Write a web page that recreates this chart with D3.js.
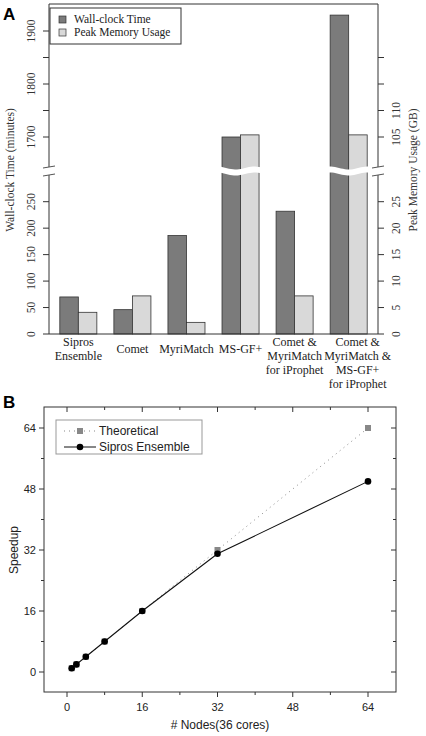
<!DOCTYPE html>
<html><head><meta charset="utf-8">
<script src="https://cdn.jsdelivr.net/npm/d3@7"></script>
<style>body{margin:0;background:#fff}</style>
</head><body>
<script>
var categories = [["Sipros","Ensemble"],["Comet"],["MyriMatch"],["MS-GF+"],["Comet &","MyriMatch","for iProphet"],["Comet &","MyriMatch &","MS-GF+","for iProphet"]];
var wallClock = [70, 46, 186, 1700, 232, 1930];
var peakMemory = [4.1, 7.2, 2.2, 105.4, 7.2, 105.4];
var nodes = [1, 2, 4, 8, 16, 32, 64];
var theoretical = [1, 2, 4, 8, 16, 32, 64];
var sipros = [1, 2, 4, 8, 16, 31, 50];

var svg = d3.select("body").append("svg").attr("width", 426).attr("height", 736);
var serif = "Liberation Serif, serif", sans = "Liberation Sans, Arial, sans-serif";

// ---- panel A
var L = 49, R = 378, T = 4, B = 334, brk = 171;
var x = d3.scaleBand().domain(d3.range(6)).range([L, R]).paddingInner(0.315).paddingOuter(0.2);
var yLow = d3.scaleLinear().domain([0, 250]).range([B, 201.7]);
var yHigh = d3.scaleLinear().domain([1700, 1900]).range([137, 31]);
var mLow = d3.scaleLinear().domain([0, 25]).range([B, 201.7]);
var mHigh = d3.scaleLinear().domain([105, 110]).range([137, 110.5]);
function yw(v) { return v > 1000 ? yHigh(v) : yLow(v); }
function ym(v) { return v > 50 ? mHigh(v) : mLow(v); }

var a = svg.append("g");
var bw = x.bandwidth() / 2;
a.selectAll("rect.w").data(wallClock).enter().append("rect")
  .attr("x", function(d, i) { return x(i); }).attr("width", bw)
  .attr("y", yw).attr("height", function(d) { return B - yw(d); })
  .attr("fill", "#7b7b7b").attr("stroke", "#333").attr("stroke-width", 0.8);
a.selectAll("rect.m").data(peakMemory).enter().append("rect")
  .attr("x", function(d, i) { return x(i) + bw; }).attr("width", bw)
  .attr("y", ym).attr("height", function(d) { return B - ym(d); })
  .attr("fill", "#d9d9d9").attr("stroke", "#333").attr("stroke-width", 0.8);

// break band
a.append("path").attr("d", d3.range(L - 10, R + 12, 2).map(function(px, k) {
    return (k ? "L" : "M") + px + "," + (brk - 3 + 1.5 * Math.sin(px / 6)); }).join("") +
    d3.range(R + 10, L - 12, -2).map(function(px) { return "L" + px + "," + (brk + 3 + 1.5 * Math.sin(px / 6)); }).join("") + "Z")
  .attr("fill", "#fff");

// axes lines
a.append("line").attr("x1", L).attr("x2", R).attr("y1", B).attr("y2", B).attr("stroke", "#333");
a.append("line").attr("x1", L).attr("x2", R).attr("y1", T).attr("y2", T).attr("stroke", "#333");
[L, R].forEach(function(px) {
  a.append("line").attr("x1", px).attr("x2", px).attr("y1", T).attr("y2", brk - 4).attr("stroke", "#333");
  a.append("line").attr("x1", px).attr("x2", px).attr("y1", brk + 4).attr("y2", B).attr("stroke", "#333");
  [-4, 4].forEach(function(o) {
    a.append("line").attr("x1", px - 6).attr("x2", px + 6).attr("y1", brk + o + 1).attr("y2", brk + o - 1).attr("stroke", "#555");
  });
});

function ticks(scale, vals, labelled, px, dir) {
  vals.forEach(function(v) {
    var py = scale(v);
    a.append("line").attr("x1", px).attr("x2", px + dir * 6).attr("y1", py).attr("y2", py).attr("stroke", "#333");
    if (labelled.indexOf(v) >= 0)
      a.append("text").attr("transform", "translate(" + (px + dir * 14) + "," + py + ") rotate(-90)")
        .attr("text-anchor", "middle").attr("dy", dir < 0 ? "0" : "0.7em").attr("font-family", serif)
        .attr("font-size", 11.5).attr("fill", "#333").text(v);
  });
}
ticks(yLow, [0, 50, 100, 150, 200, 250], [0, 50, 100, 150, 200, 250], L, -1);
ticks(yHigh, [1700, 1750, 1800, 1850, 1900], [1700, 1800, 1900], L, -1);
ticks(mLow, [0, 5, 10, 15, 20, 25], [0, 5, 10, 15, 20, 25], R, 1);
ticks(mHigh, [105, 110, 115, 120], [105, 110], R, 1);

a.append("text").attr("transform", "translate(14,170) rotate(-90)").attr("text-anchor", "middle")
  .attr("font-family", serif).attr("font-size", 11.5).attr("fill", "#333").text("Wall-clock Time (minutes)");
a.append("text").attr("transform", "translate(417,170) rotate(-90)").attr("text-anchor", "middle")
  .attr("font-family", serif).attr("font-size", 11.5).attr("fill", "#333").text("Peak Memory Usage (GB)");

var labelShift = [0, 0, 0, 0, 0, 9];
categories.forEach(function(lines, i) {
  var t = a.append("text").attr("text-anchor", "middle").attr("font-family", serif).attr("font-size", 12).attr("fill", "#222");
  var y0 = lines.length === 1 ? 353 : 346;
  lines.forEach(function(s, k) {
    t.append("tspan").attr("x", x(i) + x.bandwidth() / 2 + labelShift[i]).attr("y", y0 + k * 14).text(s);
  });
});

var lg = a.append("g");
lg.append("rect").attr("x", 50).attr("y", 8).attr("width", 131).attr("height", 36).attr("fill", "#fff").attr("stroke", "#333");
[["Wall-clock Time", "#7b7b7b"], ["Peak Memory Usage", "#d9d9d9"]].forEach(function(d, k) {
  lg.append("rect").attr("x", 59).attr("y", 16 + k * 13).attr("width", 7).attr("height", 7).attr("fill", d[1]).attr("stroke", "#333").attr("stroke-width", 0.7);
  lg.append("text").attr("x", 74).attr("y", 23 + k * 13).attr("font-family", serif).attr("font-size", 11.5).attr("fill", "#222").text(d[0]);
});
svg.append("text").attr("x", 3).attr("y", 20).attr("font-family", sans).attr("font-weight", "bold").attr("font-size", 17).text("A");

// ---- panel B
var bx = d3.scaleLinear().domain([0, 64]).range([67, 368]);
var by = d3.scaleLinear().domain([0, 64]).range([672, 428]);
var BL = 44, BR = 396, BT = 407, BB = 692;
var b = svg.append("g");
b.append("rect").attr("x", BL).attr("y", BT).attr("width", BR - BL).attr("height", BB - BT).attr("fill", "none").attr("stroke", "#333");
d3.range(0, 65, 8).forEach(function(v) {
  var len = v % 16 === 0 ? 5 : 3;
  b.append("line").attr("x1", bx(v)).attr("x2", bx(v)).attr("y1", BB).attr("y2", BB + len).attr("stroke", "#333");
  b.append("line").attr("x1", bx(v)).attr("x2", bx(v)).attr("y1", BT).attr("y2", BT + len).attr("stroke", "#333");
  b.append("line").attr("y1", by(v)).attr("y2", by(v)).attr("x1", BL).attr("x2", BL - len).attr("stroke", "#333");
  b.append("line").attr("y1", by(v)).attr("y2", by(v)).attr("x1", BR).attr("x2", BR - len).attr("stroke", "#333");
  if (v % 16 === 0) {
    b.append("text").attr("x", bx(v)).attr("y", BB + 19).attr("text-anchor", "middle").attr("font-family", sans).attr("font-size", 11).attr("fill", "#222").text(v);
    b.append("text").attr("x", BL - 8).attr("y", by(v) + 4).attr("text-anchor", "end").attr("font-family", sans).attr("font-size", 11).attr("fill", "#222").text(v);
  }
});
b.append("text").attr("x", 220).attr("y", 729).attr("text-anchor", "middle").attr("font-family", sans).attr("font-size", 12).attr("fill", "#222").text("# Nodes(36 cores)");
b.append("text").attr("transform", "translate(18,550) rotate(-90)").attr("text-anchor", "middle").attr("font-family", sans).attr("font-size", 12).attr("fill", "#222").text("Speedup");

var line = d3.line().x(function(d, i) { return bx(nodes[i]); }).y(function(d) { return by(d); });
b.append("path").attr("d", line(theoretical)).attr("fill", "none").attr("stroke", "#888").attr("stroke-width", 1).attr("stroke-dasharray", "1,4");
b.selectAll("rect.t").data(theoretical).enter().append("rect")
  .attr("x", function(d, i) { return bx(nodes[i]) - 3; }).attr("y", function(d) { return by(d) - 3; })
  .attr("width", 6).attr("height", 6).attr("fill", "#888");
b.append("path").attr("d", line(sipros)).attr("fill", "none").attr("stroke", "#111").attr("stroke-width", 1.1);
b.selectAll("circle").data(sipros).enter().append("circle")
  .attr("cx", function(d, i) { return bx(nodes[i]); }).attr("cy", by).attr("r", 3.3).attr("fill", "#000");

var lb = b.append("g");
lb.append("rect").attr("x", 56).attr("y", 420).attr("width", 146).attr("height", 34).attr("fill", "#fff").attr("stroke", "#999");
lb.append("line").attr("x1", 64).attr("x2", 96).attr("y1", 431).attr("y2", 431).attr("stroke", "#888").attr("stroke-dasharray", "1,4");
lb.append("rect").attr("x", 77).attr("y", 428).attr("width", 6).attr("height", 6).attr("fill", "#888");
lb.append("text").attr("x", 99).attr("y", 435).attr("font-family", sans).attr("font-size", 12).attr("fill", "#222").text("Theoretical");
lb.append("line").attr("x1", 64).attr("x2", 96).attr("y1", 447).attr("y2", 447).attr("stroke", "#111");
lb.append("circle").attr("cx", 80).attr("cy", 447).attr("r", 3.3);
lb.append("text").attr("x", 99).attr("y", 451).attr("font-family", sans).attr("font-size", 12).attr("fill", "#222").text("Sipros Ensemble");
svg.append("text").attr("x", 3).attr("y", 408).attr("font-family", sans).attr("font-weight", "bold").attr("font-size", 17).text("B");
</script>
</body></html>
